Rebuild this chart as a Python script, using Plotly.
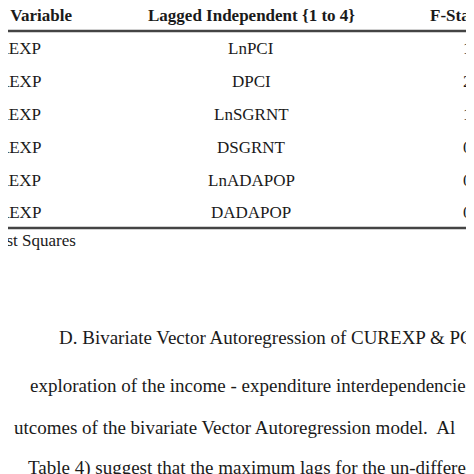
import plotly.graph_objects as go

# table contents
dependent = ["LnCUREXP", "DCUREXP", "LnCUREXP", "DCUREXP", "LnCUREXP", "DCUREXP"]
independent = ["LnPCI", "DPCI", "LnSGRNT", "DSGRNT", "LnADAPOP", "DADAPOP"]
f_stat = ["1.4", "2.2", "1.3", "0.4", "0.5", "0.9"]
headers = ["Dependent Variable", "Lagged Independent {1 to 4}", "F-Statistic"]
footnote = "Least Squares"
paragraphs = [
    "D. Bivariate Vector Autoregression of CUREXP & PCI",
    "exploration of the income - expenditure interdependencies",
    "utcomes of the bivariate Vector Autoregression model.  Al",
    "Table 4) suggest that the maximum lags for the un-differen",
]

row_y = [40, 73, 106, 139, 172, 204]
font = "Liberation Serif"
black = "#1a1a1a"

fig = go.Figure()
fig.add_trace(go.Scatter(x=[0, 474], y=[0, 474], mode="markers",
                         marker=dict(opacity=0), hoverinfo="skip"))

ann = []
ann.append(dict(x=66, y=7, text="<b>" + headers[0] + "</b>", xanchor="right"))
ann.append(dict(x=243, y=7, text="<b>" + headers[1] + "</b>", xanchor="center"))
ann.append(dict(x=420, y=7, text="<b>" + headers[2] + "</b>", xanchor="left"))
for y, a, b, c in zip(row_y, dependent, independent, f_stat):
    ann.append(dict(x=35, y=y, text=a, xanchor="right"))
    ann.append(dict(x=243, y=y, text=b, xanchor="center"))
    ann.append(dict(x=453, y=y, text=c, xanchor="left"))
ann.append(dict(x=70, y=232, text=footnote, xanchor="right"))

for a in ann:
    a.update(yanchor="middle", showarrow=False, font=dict(family=font, size=17, color=black))

para_pos = [(261, 329, "center"), (20, 377, "left"), (4, 419, "left"), (18, 460, "left")]
for (x, y, anc), t in zip(para_pos, paragraphs):
    ann.append(dict(x=x, y=y, text=t, xanchor=anc, yanchor="middle", showarrow=False,
                    font=dict(family=font, size=19, color=black)))

shapes = [
    dict(type="line", x0=0, x1=474, y0=23, y1=23, line=dict(color="#444", width=2.5)),
    dict(type="line", x0=0, x1=474, y0=220, y1=220, line=dict(color="#444", width=2.5)),
]

fig.update_layout(
    width=474, height=474,
    margin=dict(l=0, r=0, t=0, b=0),
    paper_bgcolor="white", plot_bgcolor="white",
    showlegend=False,
    xaxis=dict(range=[0, 474], visible=False, fixedrange=True),
    yaxis=dict(range=[474, 0], visible=False, fixedrange=True),
    annotations=ann, shapes=shapes,
)

fig.write_html("out.html")
